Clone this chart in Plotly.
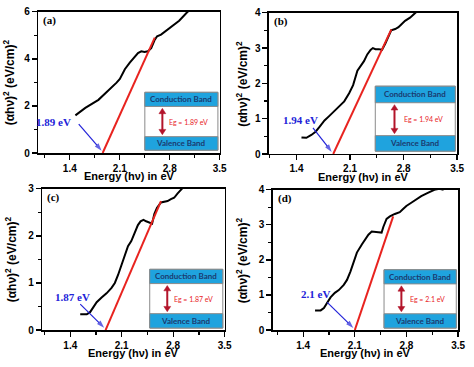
import plotly.graph_objects as go

# ---------------- data ----------------
a_energy = [1.478, 1.617, 1.801, 1.940, 2.055, 2.101, 2.171, 2.240, 2.309, 2.355, 2.401, 2.447,
            2.494, 2.540, 2.586, 2.623, 2.678, 2.724, 2.816, 2.932, 3.047, 3.07]
a_signal = [1.60, 1.92, 2.26, 2.64, 2.99, 3.15, 3.56, 3.84, 4.11, 4.25, 4.32, 4.29,
            4.32, 4.45, 4.79, 4.96, 5.03, 5.14, 5.34, 5.62, 5.99, 6.05]
a_fit_x = [1.86, 2.59]
a_fit_y = [0.0, 4.90]

b_energy = [1.465, 1.529, 1.594, 1.649, 1.701, 1.766, 1.830, 1.916, 1.981, 2.024, 2.088, 2.140,
            2.196, 2.239, 2.282, 2.325, 2.368, 2.398, 2.432, 2.475, 2.518, 2.561, 2.604, 2.638,
            2.690, 2.733, 2.776, 2.819, 2.884, 2.948, 2.97]
b_signal = [0.47, 0.46, 0.54, 0.63, 0.77, 0.95, 1.08, 1.27, 1.40, 1.49, 1.72, 1.95,
            2.36, 2.50, 2.63, 2.82, 2.95, 3.00, 2.97, 2.97, 2.95, 3.13, 3.36, 3.50,
            3.54, 3.59, 3.68, 3.77, 3.86, 4.00, 4.03]
b_fit_x = [1.88, 2.64]
b_fit_y = [0.0, 3.53]

c_energy = [1.535, 1.624, 1.669, 1.714, 1.759, 1.826, 1.893, 1.961, 2.006, 2.050, 2.104, 2.140,
            2.185, 2.230, 2.275, 2.320, 2.356, 2.396, 2.432, 2.477, 2.513, 2.544, 2.580, 2.634,
            2.679, 2.724, 2.769, 2.813, 2.858, 2.903, 2.93]
c_signal = [0.335, 0.335, 0.38, 0.485, 0.59, 0.69, 0.78, 0.895, 1.00, 1.17, 1.41, 1.61,
            1.78, 1.89, 2.06, 2.23, 2.31, 2.34, 2.31, 2.28, 2.26, 2.47, 2.60, 2.71,
            2.73, 2.74, 2.78, 2.81, 2.90, 2.98, 3.02]
c_fit_x = [1.88, 2.634]
c_fit_y = [0.0, 2.74]

d_energy = [1.561, 1.637, 1.681, 1.726, 1.771, 1.829, 1.883, 1.950, 1.994, 2.039, 2.084, 2.128,
            2.195, 2.240, 2.284, 2.329, 2.374, 2.419, 2.463, 2.486, 2.530, 2.575, 2.642, 2.709,
            2.754, 2.798, 2.865, 2.933, 3.000, 3.089, 3.178, 3.245, 3.303]
d_signal = [0.56, 0.56, 0.63, 0.79, 0.93, 1.06, 1.14, 1.29, 1.43, 1.66, 1.94, 2.21,
            2.44, 2.58, 2.72, 2.81, 2.79, 2.79, 2.78, 2.94, 3.17, 3.24, 3.31, 3.36,
            3.45, 3.54, 3.63, 3.72, 3.82, 3.91, 4.00, 4.03, 4.00]
d_fit_x = [2.10, 2.62]
d_fit_y = [0.0, 3.24]

eg_labels = ["1.89 eV", "1.94 eV", "1.87 eV", "2.1 eV"]
eg_inset_labels = ["Eg = 1.89 eV", "Eg = 1.94 eV", "Eg = 1.87 eV", "Eg = 2.1 eV"]
panel_tags = ["(a)", "(b)", "(c)", "(d)"]
x_tick_values = [1.4, 2.1, 2.8, 3.5]
x_tick_text = ["1.4", "2.1", "2.8", "3.5"]
y_max = [6, 4, 3, 4]
y_dtick = [2, 1, 1, 1]

# blue pointer arrows (tail x, tail y) -> (head x, head y), and label positions
arrow_x = [[1.525, 1.845], [1.615, 1.86], [1.535, 1.86], [1.726, 2.08]]
arrow_y = [[1.23, 0.10], [0.74, 0.06], [0.55, 0.05], [0.79, 0.06]]
label_x = [1.175, 1.45, 1.43, 1.57]
label_y = [1.32, 0.95, 0.70, 1.04]

# ---------------- layout geometry ----------------
W, H = 474, 367
# (left, right, top, bottom) in window px
boxes = [(39, 223, 6, 152), (273, 464, 7, 153), (43, 228, 189, 335), (277, 465, 190, 335)]
x_ranges = [[0.96, 3.5], [1.04, 3.5], [1.02, 3.5], [0.99, 3.5]]
ytitle_x = [10, 246, 12, 246]
# inset (x0, x1, y0, y1, cb_bottom, vb_top) in axis-domain fractions
insets = [(0.587, 0.99, 0.02, 0.43, 0.33, 0.116),
          (0.565, 0.99, 0.02, 0.48, 0.363, 0.13),
          (0.589, 0.99, 0.014, 0.43, 0.329, 0.116),
          (0.60, 0.99, 0.014, 0.43, 0.329, 0.116)]


def px_x(p):
    return min(1.0, max(0.0, p / W))


def px_y(p):
    return min(1.0, max(0.0, 1 - p / H))


energies = [a_energy, b_energy, c_energy, d_energy]
signals = [a_signal, b_signal, c_signal, d_signal]
fits_x = [a_fit_x, b_fit_x, c_fit_x, d_fit_x]
fits_y = [a_fit_y, b_fit_y, c_fit_y, d_fit_y]

SANS = "Liberation Sans, Arial, sans-serif"
SERIF = "Liberation Serif, Times New Roman, serif"
INSET_FONT = "Lato, Open Sans, sans-serif"
BLUE = "#2222d8"
BAND = "#1fa3de"
NAVY = "#1b3a70"
RED = "#e8231f"
DARKRED = "#b3142a"

fig = go.Figure()
annotations = []
shapes = []
layout = {}

for i in range(4):
    n = "" if i == 0 else str(i + 1)
    xa, ya = "x" + n, "y" + n
    l, r, t, b = boxes[i]
    pw, ph = r - l, b - t
    fig.add_trace(go.Scatter(x=energies[i], y=signals[i], mode="lines",
                             line=dict(color="black", width=2), xaxis=xa, yaxis=ya,
                             showlegend=False))
    fig.add_trace(go.Scatter(x=fits_x[i], y=fits_y[i], mode="lines",
                             line=dict(color=RED, width=2), xaxis=xa, yaxis=ya,
                             showlegend=False))
    # blue pointer arrow
    fig.add_trace(go.Scatter(x=arrow_x[i], y=arrow_y[i], mode="lines+markers",
                             line=dict(color=BLUE, width=1.2),
                             marker=dict(symbol=["circle", "arrow"], size=[0, 8], color=BLUE,
                                         angleref="previous", line=dict(width=0)),
                             xaxis=xa, yaxis=ya, showlegend=False, cliponaxis=False))
    layout["xaxis" + n] = dict(
        domain=[px_x(l), px_x(r)], range=x_ranges[i], anchor=ya,
        tickvals=x_tick_values, ticktext=x_tick_text,
        ticks="outside", ticklen=5, tickwidth=1.3, tickcolor="black",
        minor=dict(ticks="outside", ticklen=3, tickwidth=1.2, tickcolor="black",
                   tick0=1.05, dtick=0.35),
        showline=True, linecolor="black", linewidth=1.5, mirror=True,
        showgrid=False, zeroline=False,
        tickfont=dict(family=SANS, size=10, color="black", weight="bold"))
    layout["yaxis" + n] = dict(
        domain=[px_y(b), px_y(t)], range=[0, y_max[i]], anchor=xa,
        tick0=0, dtick=y_dtick[i],
        ticks="outside", ticklen=5, tickwidth=1.3, tickcolor="black",
        minor=dict(ticks="outside", ticklen=3, tickwidth=1.2, tickcolor="black",
                   dtick=y_dtick[i] / 2),
        showline=True, linecolor="black", linewidth=1.5, mirror=True,
        showgrid=False, zeroline=False,
        tickfont=dict(family=SANS, size=10, color="black", weight="bold"))

    # axis titles
    annotations.append(dict(xref="paper", yref="paper", x=px_x(ytitle_x[i]),
                            y=px_y((t + b) / 2), text="(αhν)<sup>2</sup> (eV/cm)<sup>2</sup>",
                            textangle=-90, showarrow=False, xanchor="center", yanchor="middle",
                            font=dict(family=SANS, size=12, color="black", weight="bold")))
    annotations.append(dict(xref="paper", yref="paper", x=px_x((l + r) / 2),
                            y=px_y(b + 24), text="Energy (hν) in eV",
                            showarrow=False, xanchor="center", yanchor="middle",
                            font=dict(family=SANS, size=11, color="black", weight="bold")))
    # panel tag
    annotations.append(dict(xref=xa + " domain", yref=ya + " domain", x=0.015, y=0.94,
                            text=panel_tags[i], showarrow=False, xanchor="left", yanchor="middle",
                            font=dict(family=SERIF, size=11, color="black", weight="bold")))
    # blue band-gap label
    annotations.append(dict(xref=xa, yref=ya, x=label_x[i], y=label_y[i], text=eg_labels[i],
                            showarrow=False, xanchor="center", yanchor="middle",
                            font=dict(family=SERIF, size=11, color=BLUE, weight="bold")))

    # inset band diagram
    x0, x1, y0, y1, cb, vb = insets[i]
    xr, yr = xa + " domain", ya + " domain"
    frame = dict(color="#8a8a8a", width=1)
    shapes.append(dict(type="rect", xref=xr, yref=yr, x0=x0, x1=x1, y0=y0, y1=y1,
                       fillcolor="white", line=frame, layer="above"))
    shapes.append(dict(type="rect", xref=xr, yref=yr, x0=x0, x1=x1, y0=cb, y1=y1,
                       fillcolor=BAND, line=frame, layer="above"))
    shapes.append(dict(type="rect", xref=xr, yref=yr, x0=x0, x1=x1, y0=y0, y1=vb,
                       fillcolor=BAND, line=frame, layer="above"))
    wdt = x1 - x0
    annotations.append(dict(xref=xr, yref=yr, x=x0 + wdt / 2, y=(cb + y1) / 2,
                            text="Conduction Band", showarrow=False,
                            xanchor="center", yanchor="middle",
                            font=dict(family=INSET_FONT, size=8, color=NAVY, weight="bold")))
    annotations.append(dict(xref=xr, yref=yr, x=x0 + wdt / 2, y=(y0 + vb) / 2,
                            text="Valence Band", showarrow=False,
                            xanchor="center", yanchor="middle",
                            font=dict(family=INSET_FONT, size=8, color=NAVY, weight="bold")))
    annotations.append(dict(xref=xr, yref=yr, x=x0 + wdt * 0.6, y=(vb + cb) / 2,
                            text=eg_inset_labels[i], showarrow=False,
                            xanchor="center", yanchor="middle",
                            font=dict(family=INSET_FONT, size=7, color=RED)))
    # double-headed dark red arrow
    xc = x0 + wdt * 0.24
    ytop = cb - 2.0 / ph
    ybot = vb + 2.0 / ph
    hw = 3.5 / pw
    hh = 5.5 / ph
    shapes.append(dict(type="line", xref=xr, yref=yr, x0=xc, x1=xc, y0=ybot + hh * 0.5,
                       y1=ytop - hh * 0.5, line=dict(color=DARKRED, width=2), layer="above"))
    shapes.append(dict(type="path", xref=xr, yref=yr, layer="above",
                       path=f"M {xc - hw},{ytop - hh} L {xc + hw},{ytop - hh} L {xc},{ytop} Z",
                       fillcolor=DARKRED, line=dict(color=DARKRED, width=0.5)))
    shapes.append(dict(type="path", xref=xr, yref=yr, layer="above",
                       path=f"M {xc - hw},{ybot + hh} L {xc + hw},{ybot + hh} L {xc},{ybot} Z",
                       fillcolor=DARKRED, line=dict(color=DARKRED, width=0.5)))

fig.update_layout(width=W, height=H, margin=dict(l=0, r=0, t=0, b=0),
                  paper_bgcolor="white", plot_bgcolor="white", hovermode=False,
                  annotations=annotations, shapes=shapes, showlegend=False, **layout)

fig.write_html("out.html", config={"displayModeBar": False, "staticPlot": True},
               post_script="document.body.style.margin='0px';document.body.style.padding='0px';")
